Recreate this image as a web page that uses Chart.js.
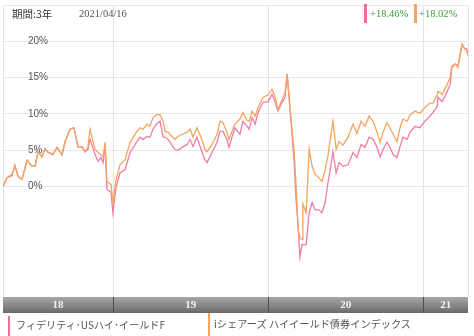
<!DOCTYPE html>
<html>
<head>
<meta charset="utf-8">
<script src="https://cdn.jsdelivr.net/npm/chart.js@4"></script>
<style>
  html,body{margin:0;padding:0;background:#fff;}
  #wrap{position:relative;width:474px;height:336px;overflow:hidden;}
  canvas{position:absolute;left:0;top:0;}
  .t{position:absolute;white-space:nowrap;line-height:1;}
  .jp{font-family:"Noto Sans CJK JP","Noto Sans",sans-serif;}
  .serif{font-family:"Liberation Serif","DejaVu Serif",serif;}
  .bar{position:absolute;width:2px;}
</style>
</head>
<body>
<div id="wrap">
  <canvas id="c" width="474" height="336"></canvas>
  <div class="t jp" id="period" style="left:12px;top:9px;font-size:10.5px;color:#333;"></div>
  <div class="t serif" id="date" style="left:79px;top:9px;font-size:10.5px;color:#555;"></div>
  <div class="bar" style="left:364px;top:4px;height:19px;width:3px;background:#ec6fa0;"></div>
  <div class="t serif" id="v1" style="left:370px;top:9px;font-size:10.5px;color:#3f9a3f;"></div>
  <div class="bar" style="left:414px;top:4px;height:19px;width:3px;background:#f5a55f;"></div>
  <div class="t serif" id="v2" style="left:419px;top:9px;font-size:10.5px;color:#3f9a3f;"></div>
  <div class="bar" style="left:8px;top:316px;height:20px;background:#ec6fa0;"></div>
  <div class="t jp" id="n1" style="left:16px;top:320px;font-size:10.1px;color:#555;"></div>
  <div class="bar" style="left:208px;top:313px;height:23px;background:#f5a55f;"></div>
  <div class="t jp" id="n2" style="left:214px;top:319px;font-size:10.2px;color:#555;"></div>
</div>
<script>
// Series names and header texts
const seriesNames = ["フィデリティ･USハイ･イールドF", "iシェアーズ ハイイールド債券インデックス"];
const periodLabel = "期間:3年";
const dateLabel = "2021/04/16";
const finalLabels = ["+18.46%", "+18.02%"];

// x: weeks since 2018/04/16
const weeks = [0,1.3,3.0,4.0,5.1,6.4,8.1,9.8,10.8,11.8,13.1,14.1,15.2,16.8,18.2,19.9,20.9,22.6,23.9,25.3,26.6,27.6,28.6,29.3,31.0,32.0,33.0,33.7,34.4,35.0,36.4,37.0,38.1,39.4,41.1,42.8,45.1,46.1,47.2,48.5,49.5,50.5,51.9,52.9,53.9,54.6,55.6,56.9,57.9,58.9,60.3,62.0,63.0,64.0,65.3,67.0,68.0,68.7,70.4,72.1,73.1,74.1,75.4,76.1,77.1,78.1,79.8,80.8,82.2,82.9,83.9,84.9,85.9,87.6,89.3,90.6,91.6,92.6,94.0,95.0,95.7,96.7,98.0,98.7,99.4,100.0,100.7,101.0,102.1,103.1,104.1,105.1,106.4,107.4,108.5,109.5,110.2,111.1,112.2,113.2,114.5,116.2,117.9,119.2,120.6,121.9,123.3,124.6,126.0,127.0,128.0,129.3,130.3,131.4,132.7,133.7,134.7,136.1,137.1,138.8,140.4,142.1,143.8,144.8,146.2,146.5,147.9,149.5,150.6,151.2,152.3,153.2,154.6,155.6,156.1,156.6];

// cumulative return (%)
const fidelity = [0,1.2,1.5,2.9,1.4,1.0,3.6,2.8,2.8,4.8,4.1,5.2,4.7,4.4,5.4,4.4,6.2,7.9,8.1,5.4,5.5,4.8,5.1,6.5,4.4,3.5,4.0,3.3,5.8,-0.4,-0.8,-3.6,0.0,1.9,2.3,4.7,6.2,6.8,6.5,6.9,6.8,7.9,8.7,9.0,6.8,6.8,6.5,5.7,5.1,5.0,5.4,5.8,6.5,5.5,6.8,4.8,3.7,3.3,4.7,6.1,7.6,7.6,6.5,5.4,6.8,8.1,7.2,9.0,8.3,7.9,9.5,8.6,10.2,11.6,11.7,12.7,11.7,10.4,11.6,12.3,15.5,10.6,3.7,-1.8,-5.5,-9.7,-8.0,-8.0,-8.0,-3.6,-2.2,-3.2,-3.2,-3.6,-2.2,0.7,2.3,4.8,1.9,3.3,2.8,3.0,4.7,4.0,5.8,5.4,6.8,6.5,5.4,4.1,5.1,6.1,5.4,4.4,4.0,5.5,6.8,6.5,7.5,8.3,8.1,9.0,9.7,10.2,11.0,12.3,11.7,13.0,14.1,16.4,16.9,16.6,19.6,18.9,19.0,18.46];
const ishares = [0,1.2,1.7,2.9,1.4,1.0,3.6,2.8,2.8,4.8,4.1,5.2,4.7,4.4,5.4,4.4,6.2,7.9,8.1,5.4,5.5,4.8,5.4,7.9,5.1,4.7,4.4,4.1,6.1,0.7,0.3,-2.2,1.0,3.0,3.7,6.1,7.6,8.1,7.9,8.6,8.3,9.5,9.9,9.9,9.0,7.6,7.5,6.9,6.5,6.9,7.2,7.5,7.9,6.8,8.1,6.5,5.1,4.8,5.8,7.2,9.0,8.8,7.5,6.5,7.6,8.6,9.3,10.2,9.1,9.0,10.4,9.7,10.9,12.3,12.6,13.4,12.4,10.6,12.0,13.0,15.5,10.6,5.1,0.3,-6.0,-7.0,-7.3,-2.4,-3.6,5.2,2.8,1.7,1.2,0.7,2.3,4.4,6.5,9.0,5.1,6.2,5.7,6.8,8.6,7.3,9.0,8.3,9.7,9.0,7.5,6.1,7.5,8.8,8.1,7.2,6.2,8.1,9.3,9.0,9.9,10.4,10.1,10.9,11.5,11.5,12.6,13.1,12.7,14.0,15.1,16.6,16.9,16.4,19.6,18.9,18.8,18.02];

// x axis: year segments
const yearLabels = ["18", "19", "20", "21"];
const yearBounds = [0, 37.1, 89.3, 141.6, 156.6];
const yTickValues = [0, 5, 10, 15, 20];

document.getElementById('period').textContent = periodLabel;
document.getElementById('date').textContent = dateLabel;
document.getElementById('v1').textContent = finalLabels[0];
document.getElementById('v2').textContent = finalLabels[1];
document.getElementById('n1').textContent = seriesNames[0];
document.getElementById('n2').textContent = seriesNames[1];

const PINK = '#ec6fa0';
const ORANGE = '#f5a55f';
const xMin = yearBounds[0], xMax = yearBounds[yearBounds.length - 1];
const yearCenters = yearLabels.map((_, i) => (yearBounds[i] + yearBounds[i + 1]) / 2);

const bandPlugin = {
  id: 'band',
  beforeDraw(chart) {
    const ctx = chart.ctx, a = chart.chartArea, xs = chart.scales.x;
    const top = xs.top, h = xs.height;
    const g = ctx.createLinearGradient(0, top, 0, top + h);
    g.addColorStop(0, '#a8a8a8');
    g.addColorStop(1, '#6a6a6a');
    ctx.save();
    ctx.fillStyle = g;
    ctx.fillRect(a.left, top, a.right - a.left, h);
    ctx.strokeStyle = '#4d4d4d';
    ctx.lineWidth = 1;
    yearBounds.slice(1, -1).forEach(b => {
      const px = Math.round(xs.getPixelForValue(b)) + 0.5;
      ctx.beginPath(); ctx.moveTo(px, top); ctx.lineTo(px, top + h); ctx.stroke();
    });
    ctx.restore();
  }
};

new Chart(document.getElementById('c'), {
  type: 'line',
  data: {
    datasets: [
      { label: seriesNames[1], data: weeks.map((w, i) => ({ x: w, y: ishares[i] })),
        borderColor: ORANGE, borderWidth: 1.3, pointRadius: 0, tension: 0, fill: false },
      { label: seriesNames[0], data: weeks.map((w, i) => ({ x: w, y: fidelity[i] })),
        borderColor: 'rgba(236,111,160,0.9)', borderWidth: 1.3, pointRadius: 0, tension: 0, fill: false }
    ]
  },
  options: {
    responsive: false,
    animation: false,
    layout: { padding: { left: 3, right: 6, top: 5, bottom: 23 } },
    plugins: { legend: { display: false }, tooltip: { enabled: false } },
    scales: {
      x: {
        type: 'linear', min: xMin, max: xMax, position: 'bottom',
        afterFit: s => { s.height = 16; s.paddingLeft = 0; s.paddingRight = 0; },
        afterBuildTicks: s => { s.ticks = yearCenters.map(v => ({ value: v })); },
        ticks: {
          callback: (v, i) => yearLabels[i], autoSkip: false, maxRotation: 0, padding: 2,
          color: '#f2f2f2', font: { family: 'Liberation Serif', size: 11, weight: 'bold' }
        },
        grid: { display: false, drawTicks: false },
        border: { display: false }
      },
      xg: {
        type: 'linear', min: xMin, max: xMax, position: 'bottom',
        afterFit: s => { s.height = 0; s.paddingLeft = 0; s.paddingRight = 0; },
        afterBuildTicks: s => { s.ticks = yearBounds.map(v => ({ value: v })); },
        ticks: { display: false },
        grid: { color: '#e4e4e4', drawTicks: false, lineWidth: 1 },
        border: { display: false }
      },
      y: {
        min: -15.2, max: 25,
        afterFit: s => { s.width = 0; s.paddingTop = 0; s.paddingBottom = 0; },
        afterBuildTicks: s => { s.ticks = yTickValues.concat([25]).map(v => ({ value: v })); },
        ticks: {
          mirror: true, padding: 25, crossAlign: 'near',
          callback: v => (yTickValues.includes(v) ? v + '%' : ''),
          color: '#555', font: { family: 'Liberation Sans', size: 10 }
        },
        grid: { color: '#e8e8e8', drawTicks: false },
        border: { display: false }
      }
    }
  },
  plugins: [bandPlugin]
});
</script>
</body>
</html>
